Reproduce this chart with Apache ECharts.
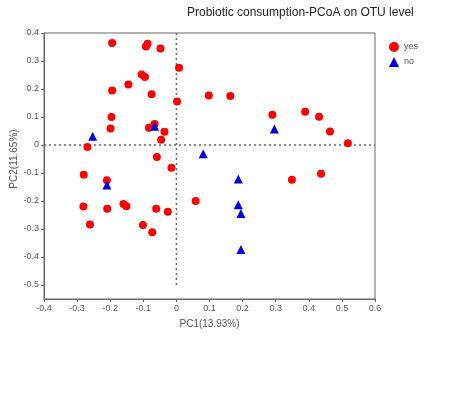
<!DOCTYPE html>
<html><head><meta charset="utf-8">
<script src="https://cdn.jsdelivr.net/npm/echarts@6/dist/echarts.min.js"></script>
<style>html,body{margin:0;padding:0;background:#fff}#c{width:474px;height:395px}</style>
</head><body><div id="c"></div>
<script>
const title = "Probiotic consumption-PCoA on OTU level";
const xName = "PC1(13.93%)";
const yName = "PC2(11.65%)";
const seriesNames = ["yes", "no"];
const yesPoints = [
  [-0.194,0.364],[-0.087,0.362],[-0.092,0.352],[-0.048,0.345],[0.008,0.276],
  [-0.105,0.252],[-0.095,0.243],[-0.145,0.216],[-0.194,0.195],[-0.075,0.181],
  [0.002,0.155],[0.098,0.177],[0.163,0.175],[-0.196,0.100],[-0.199,0.059],
  [-0.083,0.062],[-0.066,0.075],[-0.036,0.047],[-0.046,0.019],[-0.269,-0.007],
  [-0.059,-0.043],[-0.015,-0.081],[0.290,0.108],[0.389,0.119],[0.431,0.101],
  [0.464,0.048],[0.518,0.006],[-0.280,-0.106],[-0.210,-0.126],[-0.281,-0.220],
  [-0.209,-0.228],[-0.160,-0.211],[-0.151,-0.219],[-0.061,-0.228],[-0.026,-0.238],
  [0.058,-0.200],[-0.261,-0.284],[-0.101,-0.286],[-0.073,-0.312],[0.349,-0.124],
  [0.437,-0.103]
];
const noPoints = [
  [-0.253,0.031],[-0.066,0.067],[0.081,-0.031],[0.296,0.057],[-0.210,-0.143],
  [0.187,-0.121],[0.187,-0.213],[0.195,-0.245],[0.195,-0.373]
];
const yTicks = [-0.5,-0.4,-0.3,-0.2,-0.1,0,0.1,0.2,0.3,0.4];
const xRange = [-0.4, 0.6];
const yRange = [-0.55, 0.4];
const vRef = [[0, 0.4],[0, -0.5]];
const hRef = [[-0.4, 0],[0.6, 0]];

const fmt = v => { const r = Math.round(v*10)/10; return Math.abs(r) < 1e-9 ? '0' : String(r); };
const chart = echarts.init(document.getElementById('c'), null, {renderer:'canvas'});
const ff = 'Liberation Sans, Arial, sans-serif';
chart.setOption({
  animation:false,
  backgroundColor:'#fff',
  title:{text:title, left:182, top:2, textStyle:{fontFamily:ff, fontSize:12, fontWeight:'normal', color:'#222'}},
  legend:{orient:'vertical', left:384, top:37, itemWidth:10, itemHeight:10, itemGap:5,
    textStyle:{fontFamily:ff, fontSize:9, color:'#555'}, data:[
      {name:seriesNames[0], icon:'circle'},{name:seriesNames[1], icon:'triangle'}]},
  grid:{left:44, right:99, top:33, bottom:96, show:true, borderColor:'#666', borderWidth:1,
    containLabel:false, outerBoundsMode:'none'},
  xAxis:{type:'value', min:xRange[0], max:xRange[1], interval:0.1,
    name:xName, nameLocation:'middle', nameGap:20, nameTextStyle:{fontFamily:ff, fontSize:10, color:'#555'},
    axisLine:{show:true, onZero:false, lineStyle:{color:'#666'}},
    axisTick:{show:true, length:3, lineStyle:{color:'#666'}},
    axisLabel:{fontFamily:ff, fontSize:9, color:'#555', margin:5, formatter:fmt},
    splitLine:{show:false}},
  yAxis:{type:'value', min:yRange[0], max:yRange[1],
    name:yName, nameLocation:'middle', nameGap:25, nameMoveOverlap:false,
    nameTextStyle:{fontFamily:ff, fontSize:10, color:'#555', padding:[0,0,0,14]},
    axisLine:{show:true, onZero:false, lineStyle:{color:'#666'}},
    axisTick:{show:true, length:3, customValues:yTicks, lineStyle:{color:'#666'}},
    axisLabel:{fontFamily:ff, fontSize:9, color:'#555', margin:5, customValues:yTicks, formatter:fmt},
    splitLine:{show:false}},
  series:[
    {type:'line', data:vRef, symbol:'none', silent:true, lineStyle:{type:[2,3], color:'#666', width:1.5}, z:1},
    {type:'line', data:hRef, symbol:'none', silent:true, lineStyle:{type:[2,3], color:'#666', width:1.5}, z:1},
    {name:seriesNames[0], type:'scatter', data:yesPoints, symbol:'circle', symbolSize:8, itemStyle:{color:'#ff0000', opacity:1}, z:3},
    {name:seriesNames[1], type:'scatter', data:noPoints, symbol:'triangle', symbolSize:9, itemStyle:{color:'#0000e6', opacity:1}, z:4}
  ]
});
</script></body></html>
